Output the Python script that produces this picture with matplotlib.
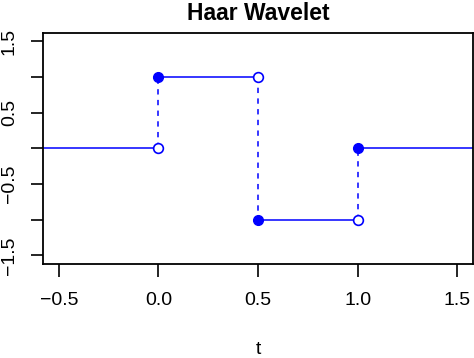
import numpy as np
import matplotlib
matplotlib.use("Agg")
import matplotlib.pyplot as plt

plt.rcParams["font.family"] = ["Liberation Sans", "DejaVu Sans"]

# step pieces of the Haar wavelet
seg_start = [-1.0, 0.0, 0.5, 1.0]
seg_end = [0.0, 0.5, 1.0, 2.0]
seg_value = [0.0, 1.0, -1.0, 0.0]

# jump points: closed (filled) and open ends
jump_t = [0.0, 0.5, 1.0]
closed_y = [1.0, -1.0, 0.0]
open_y = [0.0, 1.0, -1.0]

xticks = [-0.5, 0.0, 0.5, 1.0, 1.5]
yticks = [-1.5, -1.0, -0.5, 0.0, 0.5, 1.0, 1.5]

blue = "#0000FF"

fig = plt.figure(figsize=(4.74, 3.58), dpi=100)
ax = fig.add_axes([0.0907, 0.2626, 0.9073, 0.6454])

for a, b, v in zip(seg_start, seg_end, seg_value):
    ax.plot([a, b], [v, v], color=blue, lw=1.1, solid_capstyle="butt")

for t, yo, yc in zip(jump_t, open_y, closed_y):
    ax.plot([t, t], [yo, yc], color=blue, lw=1.1, linestyle=(0, (3.5, 3.5)))

ax.plot(jump_t, closed_y, "o", color=blue, ms=7, zorder=3)
ax.plot(jump_t, open_y, "o", mfc="white", mec=blue, mew=1.2, ms=7, zorder=3)

ax.set_xlim(-0.58, 1.58)
ax.set_ylim(-1.62, 1.62)
ax.set_xticks(xticks)
ax.set_yticks(yticks)
ax.set_xticklabels(["\u22120.5", "0.0", "0.5", "1.0", "1.5"], fontsize=14)
ax.set_yticklabels(["\u22121.5", "", "\u22120.5", "", "0.5", "", "1.5"],
                   fontsize=14, rotation=90, va="center")
ax.tick_params(direction="out", length=9, width=1.2)
ax.tick_params(axis="x", pad=11.5)
ax.tick_params(axis="y", pad=9)
for s in ax.spines.values():
    s.set_linewidth(1.3)

ax.set_title("Haar Wavelet", fontsize=16.5, fontweight="bold", pad=9.5)
fig.text(0.5443, 0.0, "t", fontsize=14, ha="center", va="bottom")

fig.savefig("out.png", dpi=100)
